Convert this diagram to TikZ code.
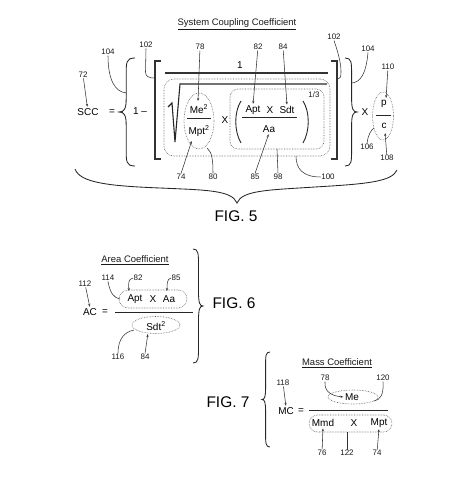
\documentclass[tikz,border=0pt]{standalone}
\usepackage{fontspec}
\setmainfont{Liberation Sans}
\usetikzlibrary{shapes.geometric,arrows.meta}
\tikzset{
  lbl/.style={font=\fontsize{8}{9}\selectfont, inner sep=0.5bp, text=black!90},
  sym/.style={font=\fontsize{10}{12}\selectfont, inner sep=0.5bp, text=black},
  ttl/.style={font=\fontsize{9.5}{11}\selectfont, inner sep=1bp, text=black!90},
  figlbl/.style={font=\fontsize{15.5}{18}\selectfont, inner sep=1bp, text=black},
  lead/.style={draw, line width=0.55bp, black!80},
  arr/.style={lead, -{Stealth[length=3bp,width=2.2bp]}, shorten >=1bp},
  dotbox/.style={draw, densely dotted, line width=0.6bp, black!65, rounded corners=#1, inner sep=0pt, outer sep=0pt},
  dotell/.style={draw, densely dotted, line width=0.6bp, black!65, ellipse, inner sep=0pt, outer sep=0pt},
  heavy/.style={line width=1.2bp, black!80},
  fracline/.style={line width=0.8bp, black!85},
  radical/.style={line width=1.1bp, black!85, line join=miter},
  bracestyle/.style={line width=0.85bp, black!85},
}
\newcommand\VBrace[4]{%
  \pgfmathsetmacro\zbE{#1}\pgfmathsetmacro\zbT{#2}\pgfmathsetmacro\zbB{#3}\pgfmathsetmacro\zbP{#4}%
  \pgfmathsetmacro\zbA{#1+0.55*(#4-#1)}%
  \pgfmathsetmacro\zbM{(#2+#3)/2}%
  \pgfmathsetmacro\zbH{(#3-#2)/2}%
  \pgfmathsetmacro\zbTa{\zbT+0.3*\zbH}\pgfmathsetmacro\zbTc{\zbT+0.08*\zbH}%
  \pgfmathsetmacro\zbBa{\zbB-0.3*\zbH}\pgfmathsetmacro\zbBc{\zbB-0.08*\zbH}%
  \pgfmathsetmacro\zbMa{\zbM-0.25*\zbH}\pgfmathsetmacro\zbMb{\zbM+0.25*\zbH}%
  \pgfmathsetmacro\zbMc{\zbM-0.05*\zbH}\pgfmathsetmacro\zbMd{\zbM+0.05*\zbH}%
  \pgfmathsetmacro\zbQ{\zbA+0.3*(\zbP-\zbA)}%
  \draw[bracestyle] (\zbE,\zbT) .. controls (\zbA,\zbT) and (\zbA,\zbTc) .. (\zbA,\zbTa)
    -- (\zbA,\zbMa) .. controls (\zbA,\zbMc) and (\zbQ,\zbM) .. (\zbP,\zbM)
    .. controls (\zbQ,\zbM) and (\zbA,\zbMd) .. (\zbA,\zbMb)
    -- (\zbA,\zbBa) .. controls (\zbA,\zbBc) and (\zbA,\zbB) .. (\zbE,\zbB);
}
\begin{document}
\begin{tikzpicture}[x=1bp,y=-1bp]
\useasboundingbox (0,0) rectangle (474,480);

% ================= FIG. 5 =================
\node[ttl] (t5) at (237,24) {\underline{System Coupling Coefficient}};
\node[lbl] (n72) at (83,75) {72};
\node[sym] (scc) at (88,112) {SCC};
\node[sym] (eq5) at (112,112) {=};
\node[sym] (one5) at (140,111) {1 –};
\VBrace{135}{58}{166}{119}
\VBrace{345}{58}{166}{357}
% square brackets
\draw[heavy] (161,61) -- (155,61) -- (155,159) -- (161,159);
\draw[heavy] (331,61) -- (337,61) -- (337,159) -- (331,159);
% main fraction
\node[sym] (top1) at (240,65) {1};
\draw[heavy] (165,73) -- (328,73);
% dotted boxes
\node[dotbox=10bp, minimum width=166bp, minimum height=77bp] (b100) at (247,117.5) {};
\node[dotbox=8bp, minimum width=94bp, minimum height=60bp] (b98) at (277,119) {};
% radical
\draw[radical] (168,107) -- (172,103) -- (175,142) -- (180,84) -- (327,84);
% Me^2 / Mpt^2
\node[dotell, minimum width=30bp, minimum height=56bp] (e80) at (199,121) {};
\node[sym] (me) at (199,109) {Me\textsuperscript{2}};
\node[sym] (mpt) at (199,131) {Mpt\textsuperscript{2}};
\draw[fracline] (187,118) -- (211,118);
\node[sym] (x1) at (225,120) {X};
% (Apt X Sdt / Aa)^(1/3)
\draw[line width=0.9bp, black!85] (241,101) .. controls (234,112) and (234,131) .. (241,143);
\draw[line width=0.9bp, black!85] (303,101) .. controls (310,112) and (310,131) .. (303,143);
\node[sym] (apt) at (253,110) {Apt};
\node[sym] (x2) at (270,110) {X};
\node[sym] (sdt) at (287,110) {Sdt};
\draw[fracline] (242,117.5) -- (297,117.5);
\node[sym] (aa) at (269,129) {Aa};
\node[lbl] (third) at (314,95) {1/3};
% X p/c
\node[sym] (x3) at (365,112) {X};
\node[dotell, minimum width=21bp, minimum height=48bp] (e106) at (383,116) {};
\node[sym] (pp) at (384,104) {p};
\node[sym] (cc) at (384,126) {c};
\draw[fracline] (376,115) -- (391,115);
% reference labels
\node[lbl] (n104a) at (108,52) {104};
\node[lbl] (n102a) at (146,45) {102};
\node[lbl] (n78) at (200,47) {78};
\node[lbl] (n82) at (258,47) {82};
\node[lbl] (n84) at (283,47) {84};
\node[lbl] (n102b) at (334,37) {102};
\node[lbl] (n104b) at (368,49) {104};
\node[lbl] (n110) at (388,67) {110};
\node[lbl] (n106) at (367,147) {106};
\node[lbl] (n108) at (387,158) {108};
\node[lbl] (n74) at (181,177) {74};
\node[lbl] (n80) at (213,177) {80};
\node[lbl] (n85) at (255,177) {85};
\node[lbl] (n98) at (278,177) {98};
\node[lbl] (n100) at (328,177) {100};
% leader end points
\coordinate (c104a) at (126.5,93);
\coordinate (c102a) at (154,78);
\coordinate (c102b) at (338,79);
\coordinate (c104b) at (352,83);
\coordinate (c106) at (374,128);
\coordinate (c80) at (207,148);
\coordinate (c98) at (277,149);
\coordinate (c100) at (296,156);
\coordinate (c78) at (198,102);
\coordinate (c74) at (192,140);
\coordinate (c110) at (386,99);
\coordinate (c108) at (385,132);
% leaders
\draw[arr] (n72) -- (scc);
\draw[lead] (n104a.south) .. controls (108,80) and (115,92) .. (c104a);
\draw[lead] (n102a.south) -- (145.5,72) .. controls (145.5,77) and (150,78) .. (c102a);
\draw[arr] (n78) -- (c78);
\draw[arr] (n82) -- (apt.north);
\draw[arr] (n84) -- (sdt.north);
\draw[lead] (n102b.south) .. controls (340,58) and (341,66) .. (341,72) .. controls (341,77) and (340,79) .. (c102b);
\draw[lead] (n104b.south) .. controls (366,75) and (360,82) .. (c104b);
\draw[arr] (n110) -- (c110);
\draw[lead] (n106.north) .. controls (368,135) and (371,130) .. (c106);
\draw[arr] (n108) -- (c108);
\draw[arr] (n74.north) -- (c74);
\draw[lead] (n80.north) .. controls (213,160) and (212,152) .. (c80);
\draw[arr] (n85.north) -- (aa.south);
\draw[lead] (n98.north) -- (c98);
\draw[lead] (n100.west) .. controls (302,177) and (296,168) .. (c100);
% bottom brace
\draw[bracestyle] (75,169) .. controls (80,183) and (110,186) .. (160,188)
  .. controls (205,190) and (232,190) .. (237,203)
  .. controls (242,190) and (270,190) .. (315,187)
  .. controls (365,184) and (392,182) .. (397,170);
\node[figlbl] (f5) at (236,216) {FIG. 5};

% ================= FIG. 6 =================
\node[ttl] (t6) at (135,260) {\underline{Area Coefficient}};
\node[lbl] (n112) at (85,284) {112};
\node[sym] (ac) at (90,312) {AC};
\node[sym] (eq6) at (105,312) {=};
\draw[fracline] (115,312) -- (193,312);
\node[dotbox=9bp, minimum width=68bp, minimum height=18bp] (b114) at (153,299) {};
\node[sym] (apt6) at (135,299) {Apt};
\node[sym] (x6) at (153,299) {X};
\node[sym] (aa6) at (169,299) {Aa};
\node[dotell, minimum width=48bp, minimum height=17bp] (e116) at (156,325) {};
\node[sym] (sdt6) at (156,326) {Sdt\textsuperscript{2}};
\node[lbl] (n114) at (108,278) {114};
\node[lbl] (n82b) at (138,278) {82};
\node[lbl] (n85b) at (176,278) {85};
\node[lbl] (n116) at (118,357) {116};
\node[lbl] (n84b) at (145,357) {84};
\coordinate (c114) at (120,299);
\coordinate (c116) at (134,330);
\coordinate (c82b) at (129,292);
\coordinate (c85b) at (167,292);
\coordinate (c84b) at (148,333);
\draw[arr] (n112) -- (ac.north);
\draw[lead] (n114.south) .. controls (110,293) and (114,298) .. (c114);
\draw[arr] (n82b.west) .. controls (128,279) and (128.5,284) .. (c82b);
\draw[arr] (n85b.west) .. controls (167,279) and (167,284) .. (c85b);
\draw[lead] (n116.north) .. controls (118,338) and (125,332) .. (c116);
\draw[arr] (n84b.north) -- (c84b);
\VBrace{193}{249}{363}{203}
\node[figlbl] (f6) at (234,303) {FIG. 6};

% ================= FIG. 7 =================
\node[figlbl] (f7) at (228,402) {FIG. 7};
\VBrace{270}{352}{447}{262}
\node[ttl] (t7) at (337,363) {\underline{Mass Coefficient}};
\node[lbl] (n118) at (283,383) {118};
\node[sym] (mc) at (286,411) {MC};
\node[sym] (eq7) at (301,411) {=};
\draw[fracline] (309,410) -- (388,410);
\node[dotell, minimum width=50bp, minimum height=14bp] (e120) at (353,397) {};
\node[sym] (me7) at (352,397) {Me};
\node[dotbox=8.5bp, minimum width=83bp, minimum height=17bp] (b122) at (350.5,423.5) {};
\node[sym] (mmd) at (323,423) {Mmd};
\node[sym] (x7) at (354,423) {X};
\node[sym] (mpt7) at (379,423) {Mpt};
\node[lbl] (n78c) at (325,378) {78};
\node[lbl] (n120) at (383,378) {120};
\node[lbl] (n76) at (322,453) {76};
\node[lbl] (n122) at (347,453) {122};
\node[lbl] (n74c) at (377,453) {74};
\coordinate (c120) at (374,401);
\coordinate (c122) at (347,432);
\draw[arr] (n118) -- (mc.north);
\draw[arr] (n78c.south) .. controls (324,392) and (332,396) .. (me7.west);
\draw[lead] (n120.south) .. controls (384,395) and (380,400) .. (c120);
\draw[arr] (n76) -- (mmd.south);
\draw[lead] (n122.north) -- (c122);
\draw[arr] (n74c) -- (mpt7.south);
\end{tikzpicture}
\end{document}
